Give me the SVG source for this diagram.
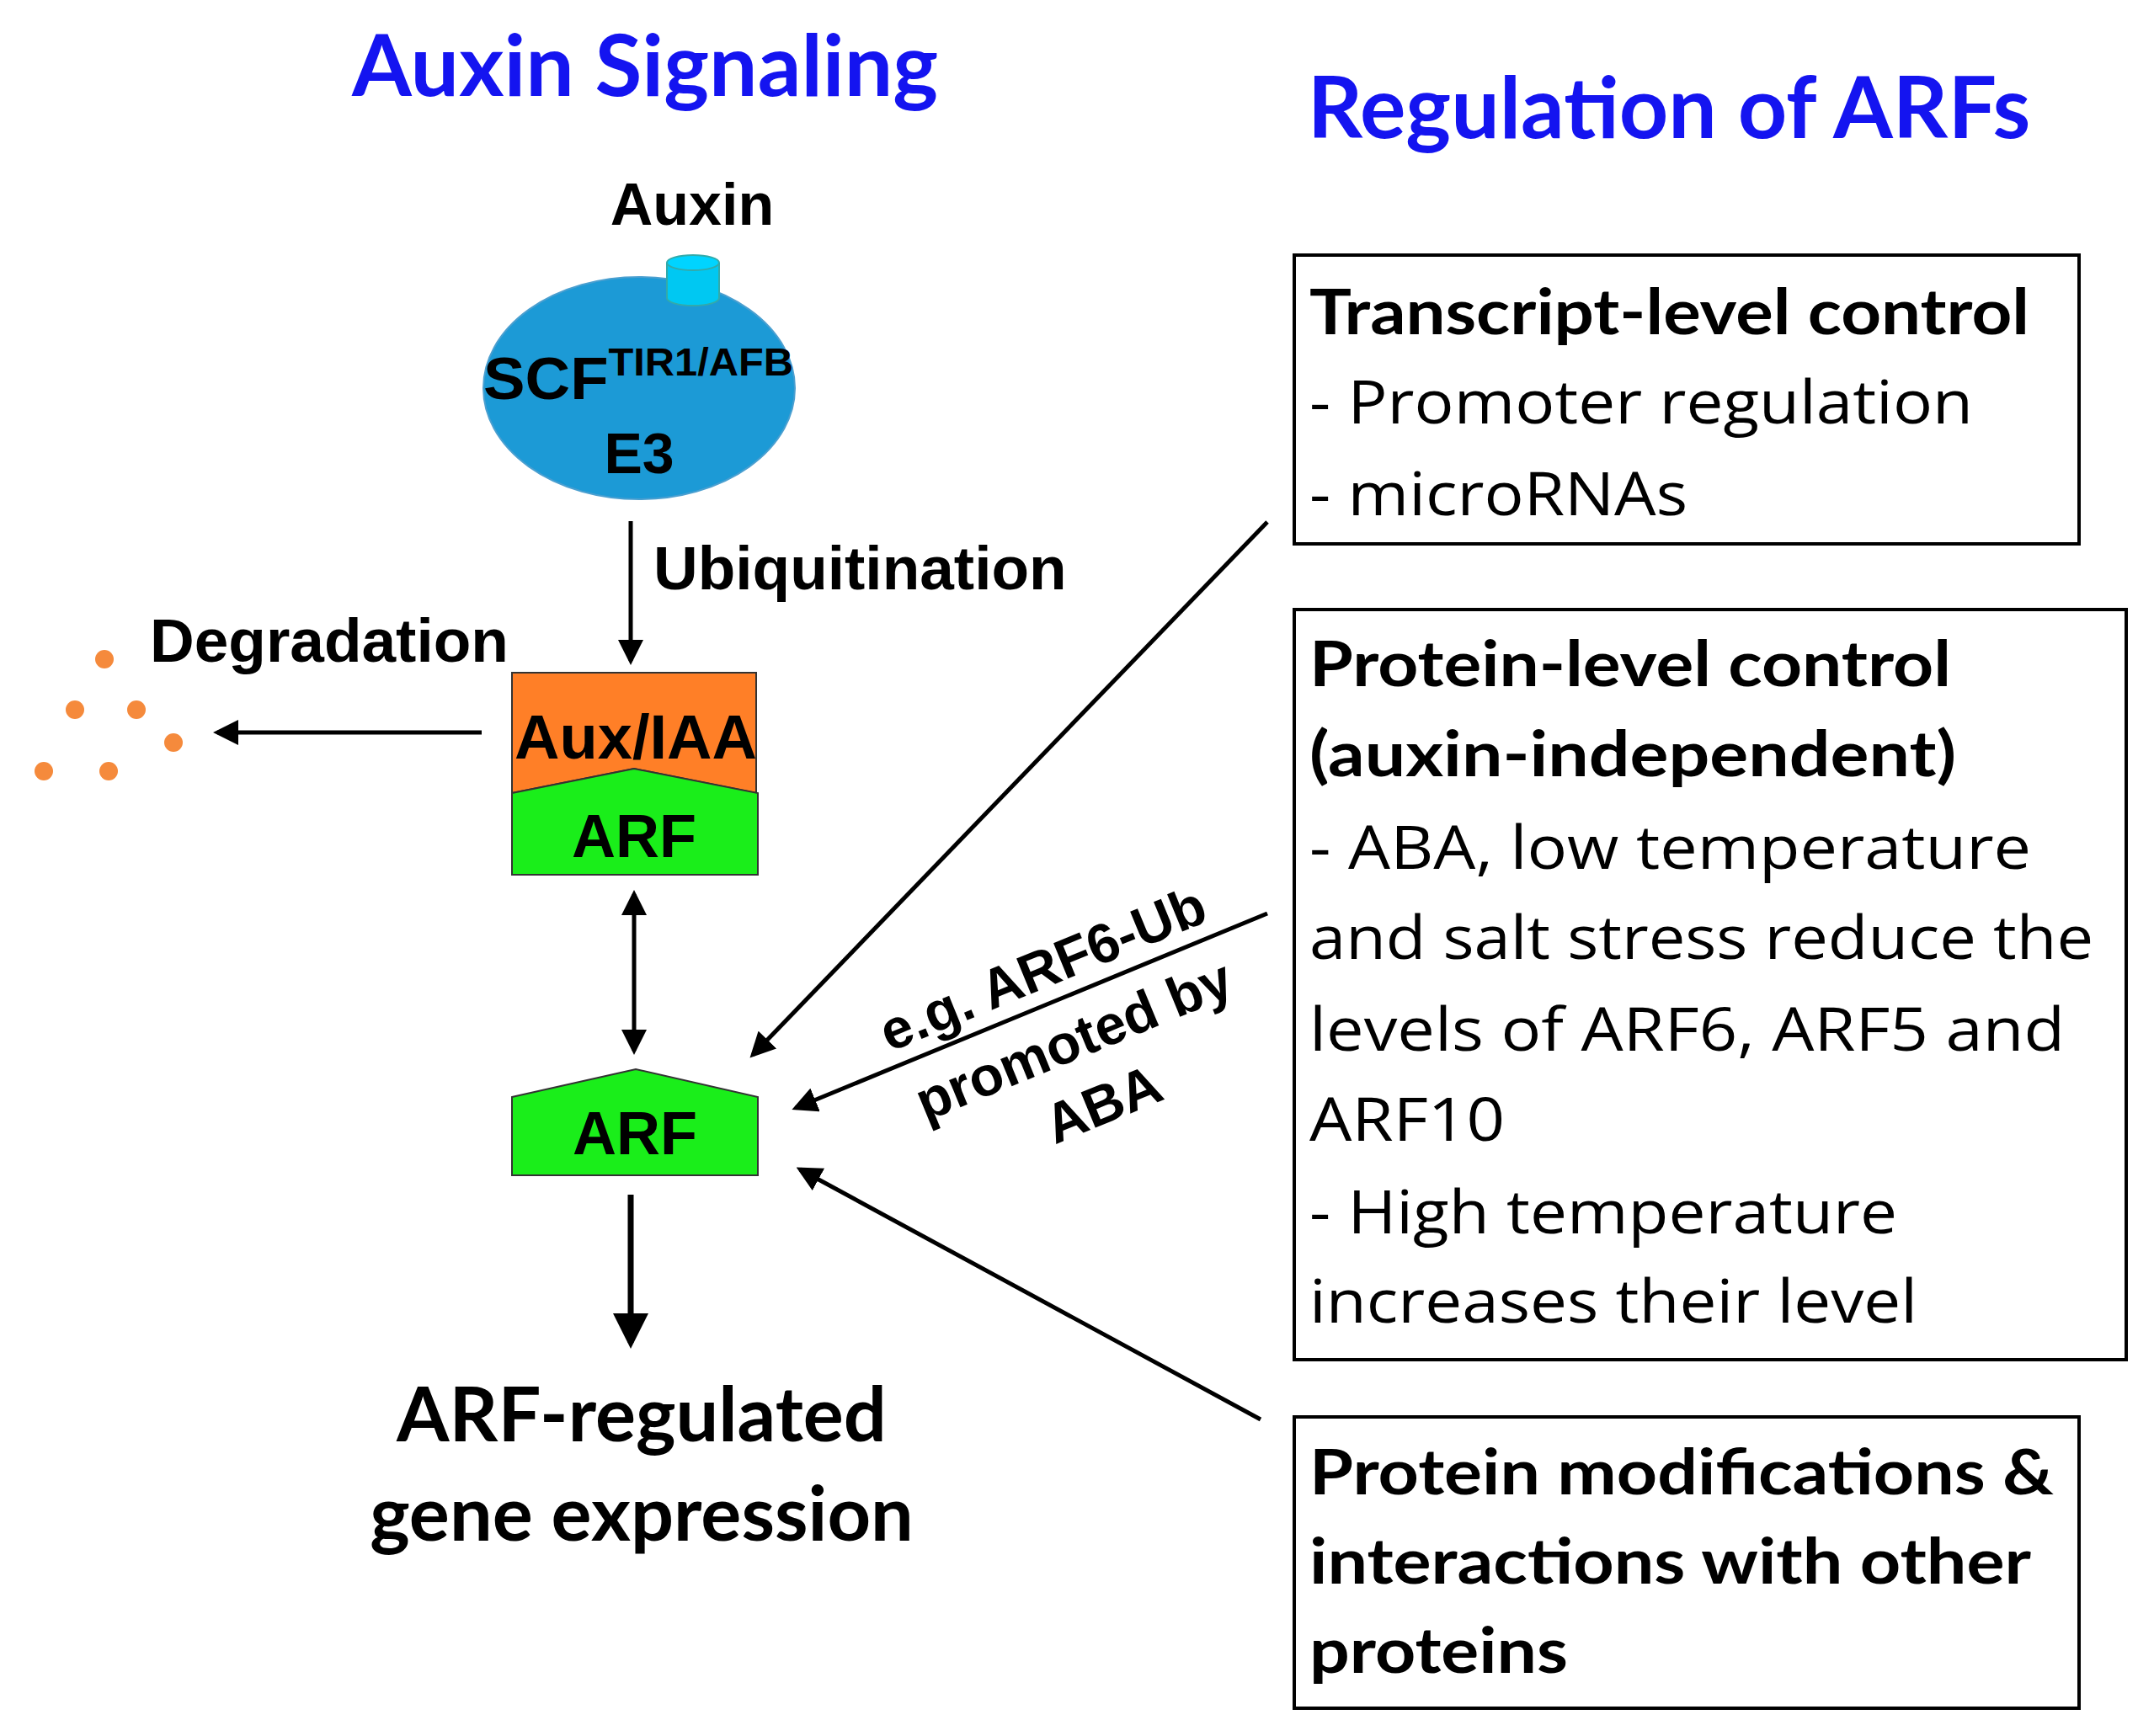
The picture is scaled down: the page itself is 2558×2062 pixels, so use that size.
<svg xmlns="http://www.w3.org/2000/svg" width="2558" height="2062" viewBox="0 0 2558 2062">
<defs>
<style>
.t{font-family:Lato,"Open Sans",sans-serif;font-weight:bold;fill:#1414f0}
.a{font-family:"Liberation Sans",Arial,sans-serif;font-weight:bold;fill:#000}
.cb{font-family:Lato,"Open Sans",sans-serif;font-weight:bold;fill:#000;font-size:74px}
.cr{font-family:"Open Sans",Lato,sans-serif;fill:#000;font-size:72px}
.box{fill:#fff;stroke:#000;stroke-width:4}
.ln{stroke:#000;stroke-width:5;fill:none}
.dot{fill:#f58a3c}
</style>
<marker id="ah" markerWidth="6" markerHeight="6" refX="5" refY="3" orient="auto-start-reverse" markerUnits="strokeWidth"><path d="M0,0 L6,3 L0,6 z" fill="#000"/></marker>
</defs>
<rect width="2558" height="2062" fill="#fff"/>
<text class="t" x="766" y="114" font-size="102" text-anchor="middle">Auxin Signaling</text>
<text class="t" x="1982" y="164" font-size="102" text-anchor="middle">Regulation of ARFs</text>

<g id="auxin"><text class="a" x="822" y="267" font-size="70" text-anchor="middle">Auxin</text></g>
<g id="scf">
<ellipse cx="759" cy="461" rx="185" ry="132" fill="#1c9ad6" stroke="#4a9fd0" stroke-width="2"/>
<path d="M792,312 v42 a31,9 0 0 0 62,0 v-42" fill="#00c8f2" stroke="#3aa" stroke-width="2"/>
<ellipse cx="823" cy="312" rx="31" ry="9" fill="#00d4ff" stroke="#3aa" stroke-width="2"/>
<text class="a" x="574" y="474" font-size="70" textLength="368" lengthAdjust="spacingAndGlyphs">SCF<tspan font-size="46" dy="-28">TIR1/AFB</tspan></text>
<text class="a" x="759" y="562" font-size="68" text-anchor="middle">E3</text>
</g>
<g id="auxiaa">
<path d="M608,799 H898 V942 L753,913 L608,942 Z" fill="#ff7f27" stroke="#333" stroke-width="2"/>
<path d="M608,942 L753,913 L900,942 V1039 H608 Z" fill="#1aee1a" stroke="#333" stroke-width="2"/>
<text class="a" x="755" y="901" font-size="74" text-anchor="middle">Aux/IAA</text>
<text class="a" x="753" y="1018" font-size="72" text-anchor="middle">ARF</text>
</g>
<g id="arf">
<path d="M608,1303 L755,1270 L900,1303 V1396 H608 Z" fill="#1aee1a" stroke="#333" stroke-width="2"/>
<text class="a" x="754" y="1371" font-size="72" text-anchor="middle">ARF</text>
</g>
<g id="dots">
<circle class="dot" cx="124" cy="783" r="11"/><circle class="dot" cx="89" cy="843" r="11"/><circle class="dot" cx="162" cy="843" r="11"/><circle class="dot" cx="206" cy="882" r="11"/><circle class="dot" cx="52" cy="916" r="11"/><circle class="dot" cx="129" cy="916" r="11"/>
</g>
<g id="output">
<text class="cb" x="762" y="1712" text-anchor="middle" style="font-size:90px">ARF-regulated</text>
<text class="cb" x="762" y="1830" text-anchor="middle" style="font-size:90px">gene expression</text>
</g>
<g id="box1">
<rect class="box" x="1537" y="303" width="932" height="343"/>
<text class="cb" x="1555" y="397" textLength="855" lengthAdjust="spacingAndGlyphs">Transcript-level control</text>
<text class="cr" x="1555" y="503" textLength="788" lengthAdjust="spacingAndGlyphs">- Promoter regulation</text>
<text class="cr" x="1555" y="612" textLength="449" lengthAdjust="spacingAndGlyphs">- microRNAs</text>
</g>
<g id="box2">
<rect class="box" x="1537" y="724" width="988" height="891"/>
<text class="cb" x="1555" y="815" textLength="762" lengthAdjust="spacingAndGlyphs">Protein-level control</text>
<text class="cb" x="1555" y="922" textLength="768" lengthAdjust="spacingAndGlyphs">(auxin-independent)</text>
<text class="cr" x="1555" y="1032" textLength="857" lengthAdjust="spacingAndGlyphs">- ABA, low temperature</text>
<text class="cr" x="1555" y="1139" textLength="931" lengthAdjust="spacingAndGlyphs">and salt stress reduce the</text>
<text class="cr" x="1555" y="1248" textLength="897" lengthAdjust="spacingAndGlyphs">levels of ARF6, ARF5 and</text>
<text class="cr" x="1555" y="1355" textLength="232" lengthAdjust="spacingAndGlyphs">ARF10</text>
<text class="cr" x="1555" y="1465" textLength="698" lengthAdjust="spacingAndGlyphs">- High temperature</text>
<text class="cr" x="1555" y="1571" textLength="722" lengthAdjust="spacingAndGlyphs">increases their level</text>
</g>
<g id="box3">
<rect class="box" x="1537" y="1683" width="932" height="346"/>
<text class="cb" x="1555" y="1775" textLength="884" lengthAdjust="spacingAndGlyphs">Protein modifications &amp;</text>
<text class="cb" x="1555" y="1881" textLength="857" lengthAdjust="spacingAndGlyphs">interactions with other</text>
<text class="cb" x="1555" y="1987" textLength="307" lengthAdjust="spacingAndGlyphs">proteins</text>
</g>
<g id="connectors">
<line class="ln" x1="749" y1="619" x2="749" y2="785" marker-end="url(#ah)"/>
<text class="a" x="776" y="700" font-size="73">Ubiquitination</text>
<line class="ln" x1="572" y1="870" x2="258" y2="870" marker-end="url(#ah)"/>
<text class="a" x="178" y="786" font-size="73">Degradation</text>
<line class="ln" x1="753" y1="1062" x2="753" y2="1248" marker-start="url(#ah)" marker-end="url(#ah)"/>
<line x1="749" y1="1419" x2="749" y2="1595" stroke="#000" stroke-width="7" marker-end="url(#ah)"/>
<line class="ln" x1="1505" y1="620" x2="894" y2="1253" marker-end="url(#ah)"/>
<line class="ln" x1="1505" y1="1085" x2="945" y2="1316" marker-end="url(#ah)"/>
<line class="ln" x1="1497" y1="1686" x2="950" y2="1389" marker-end="url(#ah)"/>
<text class="a" x="1238" y="1173" font-size="66" text-anchor="middle" transform="rotate(-22.4 1238 1150)">e.g. ARF6-Ub</text>
<text class="a" x="1275" y="1258" font-size="66" text-anchor="middle" transform="rotate(-22.4 1275 1235)">promoted by</text>
<text class="a" x="1310" y="1334" font-size="66" text-anchor="middle" transform="rotate(-22.4 1310 1311)">ABA</text>
</g>
</svg>
